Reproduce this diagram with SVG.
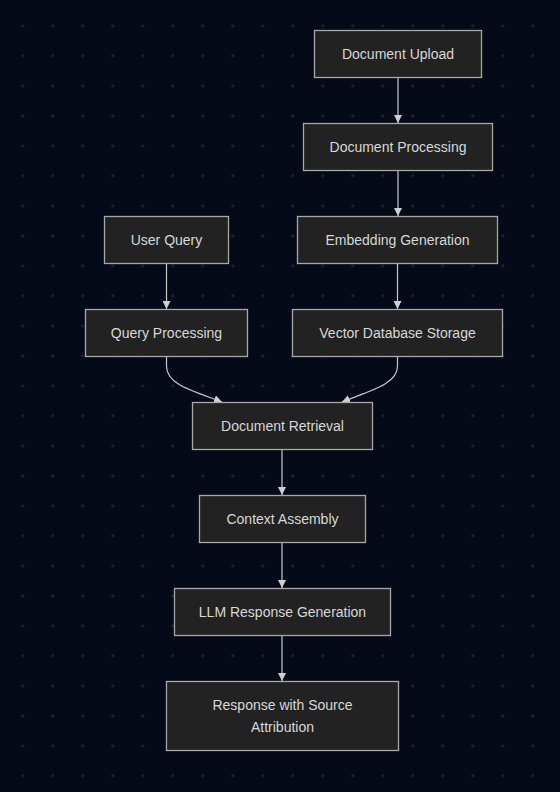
<svg xmlns="http://www.w3.org/2000/svg" width="560" height="792" viewBox="0 0 560 792">
<defs>
<pattern id="dots" x="7.7" y="10.7" width="30" height="30" patternUnits="userSpaceOnUse">
<circle cx="15" cy="15" r="1.5" fill="#222736"/>
</pattern>
<marker id="arr" viewBox="0 0 10 10" refX="10" refY="5" markerWidth="8" markerHeight="8" markerUnits="userSpaceOnUse" orient="auto">
<path d="M0,0 L10,5 L0,10 z" fill="#d0d0d0"/>
</marker>
<style>
.node rect{fill:#212221;stroke:#a8a8a8;stroke-width:1.3}
.node text{font-family:"Liberation Sans",Arial,sans-serif;font-size:14px;fill:#d8d8d8;text-anchor:middle}
.edge{fill:none;stroke:#c8c8c8;stroke-width:1.2;marker-end:url(#arr)}
</style>
</defs>
<rect width="560" height="792" fill="#050a19"/>
<rect width="560" height="792" fill="url(#dots)"/>
<g id="connectors">
<path class="edge" d="M398,78 L398,123"/>
<path class="edge" d="M398,171 L398,216"/>
<path class="edge" d="M166.5,264 L166.5,309"/>
<path class="edge" d="M397.5,264 L397.5,309"/>
<path class="edge" d="M166.5,357 L166.5,366 C166.5,384 190,390 222,402"/>
<path class="edge" d="M397.5,357 L397.5,366 C397.5,384 372,390 342,402"/>
<path class="edge" d="M282,450 L282,495"/>
<path class="edge" d="M282,543 L282,588"/>
<path class="edge" d="M282,636 L282,681"/>
</g>
<g id="n-upload" class="node"><rect x="314.5" y="30.5" width="167" height="47"/><text x="398" y="59">Document Upload</text></g>
<g id="n-docproc" class="node"><rect x="303.5" y="123.5" width="189" height="47"/><text x="398" y="152">Document Processing</text></g>
<g id="n-userquery" class="node"><rect x="104.5" y="216.5" width="124" height="47"/><text x="166.5" y="245">User Query</text></g>
<g id="n-embed" class="node"><rect x="297.5" y="216.5" width="200" height="47"/><text x="397.5" y="245">Embedding Generation</text></g>
<g id="n-queryproc" class="node"><rect x="85.5" y="309.5" width="162" height="47"/><text x="166.5" y="338">Query Processing</text></g>
<g id="n-vector" class="node"><rect x="292.5" y="309.5" width="210" height="47"/><text x="397.5" y="338">Vector Database Storage</text></g>
<g id="n-retrieval" class="node"><rect x="192.5" y="402.5" width="180" height="47"/><text x="282.5" y="431">Document Retrieval</text></g>
<g id="n-context" class="node"><rect x="199.5" y="495.5" width="166" height="47"/><text x="282.5" y="524">Context Assembly</text></g>
<g id="n-llm" class="node"><rect x="174.5" y="588.5" width="216" height="47"/><text x="282.5" y="617">LLM Response Generation</text></g>
<g id="n-response" class="node"><rect x="166.5" y="681.5" width="232" height="69"/><text x="282.5" y="710">Response with Source</text><text x="282.5" y="732">Attribution</text></g>
</svg>
